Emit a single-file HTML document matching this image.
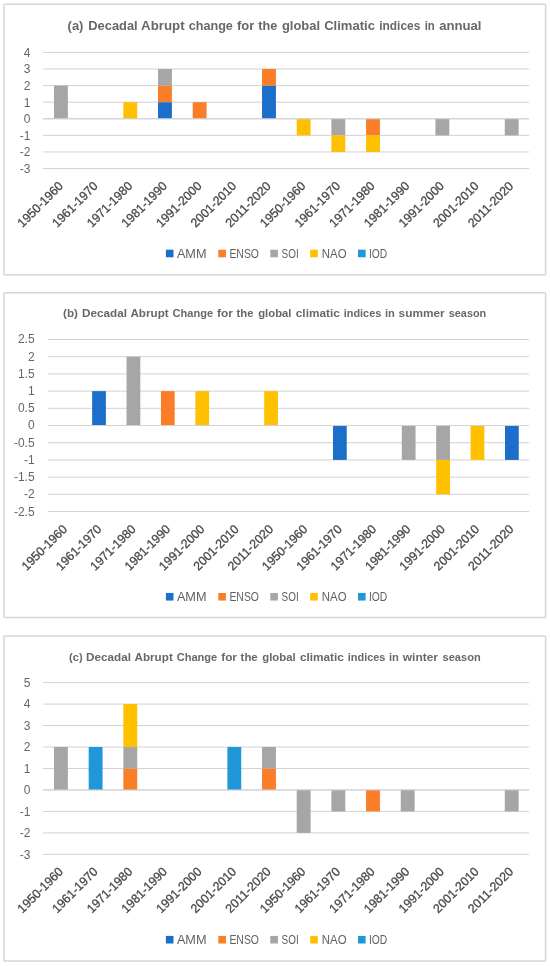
<!DOCTYPE html><html><head><meta charset="utf-8"><title>Decadal Abrupt Change</title><style>html,body{margin:0;padding:0;background:#fff}svg{display:block}text{font-family:"Liberation Sans",sans-serif}</style></head><body>
<svg width="550" height="966" viewBox="0 0 550 966" fill="#595959">
<rect x="0" y="0" width="550" height="966" fill="#fff"/>
<rect x="3.95" y="4.25" width="541.65" height="270.45" fill="#fff" stroke="#D6D6D6" stroke-width="1.5" rx="0.8"/>
<line x1="43.00" y1="52.40" x2="529.00" y2="52.40" stroke="#D2D2D2" stroke-width="1"/>
<text x="30.40" y="56.85" font-size="12.00" fill="#666666" text-anchor="end">4</text>
<line x1="43.00" y1="68.99" x2="529.00" y2="68.99" stroke="#D2D2D2" stroke-width="1"/>
<text x="30.40" y="73.44" font-size="12.00" fill="#666666" text-anchor="end">3</text>
<line x1="43.00" y1="85.59" x2="529.00" y2="85.59" stroke="#D2D2D2" stroke-width="1"/>
<text x="30.40" y="90.04" font-size="12.00" fill="#666666" text-anchor="end">2</text>
<line x1="43.00" y1="102.18" x2="529.00" y2="102.18" stroke="#D2D2D2" stroke-width="1"/>
<text x="30.40" y="106.63" font-size="12.00" fill="#666666" text-anchor="end">1</text>
<line x1="43.00" y1="118.77" x2="529.00" y2="118.77" stroke="#D2D2D2" stroke-width="1"/>
<text x="30.40" y="123.22" font-size="12.00" fill="#666666" text-anchor="end">0</text>
<line x1="43.00" y1="135.36" x2="529.00" y2="135.36" stroke="#D2D2D2" stroke-width="1"/>
<text x="30.40" y="139.81" font-size="12.00" fill="#666666" text-anchor="end">-1</text>
<line x1="43.00" y1="151.96" x2="529.00" y2="151.96" stroke="#D2D2D2" stroke-width="1"/>
<text x="30.40" y="156.41" font-size="12.00" fill="#666666" text-anchor="end">-2</text>
<line x1="43.00" y1="168.55" x2="529.00" y2="168.55" stroke="#D2D2D2" stroke-width="1"/>
<text x="30.40" y="173.00" font-size="12.00" fill="#666666" text-anchor="end">-3</text>
<rect x="54.00" y="85.59" width="13.87" height="33.19" fill="#A6A6A6"/>
<rect x="123.35" y="102.18" width="13.87" height="16.59" fill="#FFC000"/>
<rect x="158.03" y="102.18" width="13.87" height="16.59" fill="#1B6EC9"/>
<rect x="158.03" y="85.59" width="13.87" height="16.59" fill="#FA7E28"/>
<rect x="158.03" y="68.99" width="13.87" height="16.59" fill="#A6A6A6"/>
<rect x="192.70" y="102.18" width="13.87" height="16.59" fill="#FA7E28"/>
<rect x="262.05" y="85.59" width="13.87" height="33.19" fill="#1B6EC9"/>
<rect x="262.05" y="68.99" width="13.87" height="16.59" fill="#FA7E28"/>
<rect x="296.73" y="118.77" width="13.87" height="16.59" fill="#FFC000"/>
<rect x="331.40" y="118.77" width="13.87" height="16.59" fill="#A6A6A6"/>
<rect x="331.40" y="135.36" width="13.87" height="16.59" fill="#FFC000"/>
<rect x="366.08" y="118.77" width="13.87" height="16.59" fill="#FA7E28"/>
<rect x="366.08" y="135.36" width="13.87" height="16.59" fill="#FFC000"/>
<rect x="435.43" y="118.77" width="13.87" height="16.59" fill="#A6A6A6"/>
<rect x="504.78" y="118.77" width="13.87" height="16.59" fill="#A6A6A6"/>
<line x1="43.00" y1="118.77" x2="529.00" y2="118.77" stroke="#D2D2D2" stroke-width="1"/>
<text transform="translate(60.86 183.70) rotate(-45)" x="0" y="4.30" font-size="12.50" text-anchor="end" fill="#484848" stroke="#484848" stroke-width="0.3" textLength="58.4" lengthAdjust="spacingAndGlyphs">1950-1960</text>
<text transform="translate(95.49 183.70) rotate(-45)" x="0" y="4.30" font-size="12.50" text-anchor="end" fill="#484848" stroke="#484848" stroke-width="0.3" textLength="58.4" lengthAdjust="spacingAndGlyphs">1961-1970</text>
<text transform="translate(130.13 183.70) rotate(-45)" x="0" y="4.30" font-size="12.50" text-anchor="end" fill="#484848" stroke="#484848" stroke-width="0.3" textLength="58.4" lengthAdjust="spacingAndGlyphs">1971-1980</text>
<text transform="translate(164.77 183.70) rotate(-45)" x="0" y="4.30" font-size="12.50" text-anchor="end" fill="#484848" stroke="#484848" stroke-width="0.3" textLength="58.4" lengthAdjust="spacingAndGlyphs">1981-1990</text>
<text transform="translate(199.41 183.70) rotate(-45)" x="0" y="4.30" font-size="12.50" text-anchor="end" fill="#484848" stroke="#484848" stroke-width="0.3" textLength="58.4" lengthAdjust="spacingAndGlyphs">1991-2000</text>
<text transform="translate(234.04 183.70) rotate(-45)" x="0" y="4.30" font-size="12.50" text-anchor="end" fill="#484848" stroke="#484848" stroke-width="0.3" textLength="58.4" lengthAdjust="spacingAndGlyphs">2001-2010</text>
<text transform="translate(268.68 183.70) rotate(-45)" x="0" y="4.30" font-size="12.50" text-anchor="end" fill="#484848" stroke="#484848" stroke-width="0.3" textLength="58.4" lengthAdjust="spacingAndGlyphs">2011-2020</text>
<text transform="translate(303.32 183.70) rotate(-45)" x="0" y="4.30" font-size="12.50" text-anchor="end" fill="#484848" stroke="#484848" stroke-width="0.3" textLength="58.4" lengthAdjust="spacingAndGlyphs">1950-1960</text>
<text transform="translate(337.96 183.70) rotate(-45)" x="0" y="4.30" font-size="12.50" text-anchor="end" fill="#484848" stroke="#484848" stroke-width="0.3" textLength="58.4" lengthAdjust="spacingAndGlyphs">1961-1970</text>
<text transform="translate(372.59 183.70) rotate(-45)" x="0" y="4.30" font-size="12.50" text-anchor="end" fill="#484848" stroke="#484848" stroke-width="0.3" textLength="58.4" lengthAdjust="spacingAndGlyphs">1971-1980</text>
<text transform="translate(407.23 183.70) rotate(-45)" x="0" y="4.30" font-size="12.50" text-anchor="end" fill="#484848" stroke="#484848" stroke-width="0.3" textLength="58.4" lengthAdjust="spacingAndGlyphs">1981-1990</text>
<text transform="translate(441.87 183.70) rotate(-45)" x="0" y="4.30" font-size="12.50" text-anchor="end" fill="#484848" stroke="#484848" stroke-width="0.3" textLength="58.4" lengthAdjust="spacingAndGlyphs">1991-2000</text>
<text transform="translate(476.50 183.70) rotate(-45)" x="0" y="4.30" font-size="12.50" text-anchor="end" fill="#484848" stroke="#484848" stroke-width="0.3" textLength="58.4" lengthAdjust="spacingAndGlyphs">2001-2010</text>
<text transform="translate(511.14 183.70) rotate(-45)" x="0" y="4.30" font-size="12.50" text-anchor="end" fill="#484848" stroke="#484848" stroke-width="0.3" textLength="58.4" lengthAdjust="spacingAndGlyphs">2011-2020</text>
<text y="29.60" font-size="13.30" font-weight="bold" fill="#686868"><tspan x="67.60" textLength="15.80" lengthAdjust="spacingAndGlyphs">(a)</tspan> <tspan x="88.30" textLength="49.40" lengthAdjust="spacingAndGlyphs">Decadal</tspan> <tspan x="141.10" textLength="43.50" lengthAdjust="spacingAndGlyphs">Abrupt</tspan> <tspan x="188.70" textLength="44.20" lengthAdjust="spacingAndGlyphs">change</tspan> <tspan x="236.90" textLength="17.40" lengthAdjust="spacingAndGlyphs">for</tspan> <tspan x="258.30" textLength="19.00" lengthAdjust="spacingAndGlyphs">the</tspan> <tspan x="281.90" textLength="38.10" lengthAdjust="spacingAndGlyphs">global</tspan> <tspan x="324.20" textLength="50.70" lengthAdjust="spacingAndGlyphs">Climatic</tspan> <tspan x="379.20" textLength="41.10" lengthAdjust="spacingAndGlyphs">indices</tspan> <tspan x="424.70" textLength="10.10" lengthAdjust="spacingAndGlyphs">in</tspan> <tspan x="439.20" textLength="42.30" lengthAdjust="spacingAndGlyphs">annual</tspan></text>
<rect x="165.90" y="249.70" width="7.6" height="7.6" fill="#1B6EC9"/>
<text x="176.90" y="257.50" font-size="12.50" fill="#606060" textLength="29.60" lengthAdjust="spacingAndGlyphs">AMM</text>
<rect x="218.30" y="249.70" width="7.6" height="7.6" fill="#FA7E28"/>
<text x="229.40" y="257.50" font-size="12.50" fill="#606060" textLength="29.60" lengthAdjust="spacingAndGlyphs">ENSO</text>
<rect x="270.30" y="249.70" width="7.6" height="7.6" fill="#A6A6A6"/>
<text x="281.60" y="257.50" font-size="12.50" fill="#606060" textLength="17.10" lengthAdjust="spacingAndGlyphs">SOI</text>
<rect x="310.20" y="249.70" width="7.6" height="7.6" fill="#FFC000"/>
<text x="321.80" y="257.50" font-size="12.50" fill="#606060" textLength="24.70" lengthAdjust="spacingAndGlyphs">NAO</text>
<rect x="358.00" y="249.70" width="7.6" height="7.6" fill="#1F97D9"/>
<text x="368.90" y="257.50" font-size="12.50" fill="#606060" textLength="18.30" lengthAdjust="spacingAndGlyphs">IOD</text>
<rect x="3.95" y="292.70" width="541.65" height="324.85" fill="#fff" stroke="#D6D6D6" stroke-width="1.5" rx="0.8"/>
<line x1="48.00" y1="339.50" x2="529.00" y2="339.50" stroke="#D2D2D2" stroke-width="1"/>
<text x="34.60" y="343.45" font-size="12.00" fill="#666666" text-anchor="end">2.5</text>
<line x1="48.00" y1="356.70" x2="529.00" y2="356.70" stroke="#D2D2D2" stroke-width="1"/>
<text x="34.60" y="360.65" font-size="12.00" fill="#666666" text-anchor="end">2</text>
<line x1="48.00" y1="373.91" x2="529.00" y2="373.91" stroke="#D2D2D2" stroke-width="1"/>
<text x="34.60" y="377.86" font-size="12.00" fill="#666666" text-anchor="end">1.5</text>
<line x1="48.00" y1="391.12" x2="529.00" y2="391.12" stroke="#D2D2D2" stroke-width="1"/>
<text x="34.60" y="395.06" font-size="12.00" fill="#666666" text-anchor="end">1</text>
<line x1="48.00" y1="408.32" x2="529.00" y2="408.32" stroke="#D2D2D2" stroke-width="1"/>
<text x="34.60" y="412.27" font-size="12.00" fill="#666666" text-anchor="end">0.5</text>
<line x1="48.00" y1="425.52" x2="529.00" y2="425.52" stroke="#D2D2D2" stroke-width="1"/>
<text x="34.60" y="429.47" font-size="12.00" fill="#666666" text-anchor="end">0</text>
<line x1="48.00" y1="442.73" x2="529.00" y2="442.73" stroke="#D2D2D2" stroke-width="1"/>
<text x="34.60" y="446.68" font-size="12.00" fill="#666666" text-anchor="end">-0.5</text>
<line x1="48.00" y1="459.94" x2="529.00" y2="459.94" stroke="#D2D2D2" stroke-width="1"/>
<text x="34.60" y="463.88" font-size="12.00" fill="#666666" text-anchor="end">-1</text>
<line x1="48.00" y1="477.14" x2="529.00" y2="477.14" stroke="#D2D2D2" stroke-width="1"/>
<text x="34.60" y="481.09" font-size="12.00" fill="#666666" text-anchor="end">-1.5</text>
<line x1="48.00" y1="494.35" x2="529.00" y2="494.35" stroke="#D2D2D2" stroke-width="1"/>
<text x="34.60" y="498.30" font-size="12.00" fill="#666666" text-anchor="end">-2</text>
<line x1="48.00" y1="511.55" x2="529.00" y2="511.55" stroke="#D2D2D2" stroke-width="1"/>
<text x="34.60" y="515.50" font-size="12.00" fill="#666666" text-anchor="end">-2.5</text>
<rect x="92.13" y="391.12" width="13.76" height="34.41" fill="#1B6EC9"/>
<rect x="126.54" y="356.70" width="13.76" height="68.82" fill="#A6A6A6"/>
<rect x="160.94" y="391.12" width="13.76" height="34.41" fill="#FA7E28"/>
<rect x="195.35" y="391.12" width="13.76" height="34.41" fill="#FFC000"/>
<rect x="264.17" y="391.12" width="13.76" height="34.41" fill="#FFC000"/>
<rect x="332.98" y="425.52" width="13.76" height="34.41" fill="#1B6EC9"/>
<rect x="401.79" y="425.52" width="13.76" height="34.41" fill="#A6A6A6"/>
<rect x="436.20" y="425.52" width="13.76" height="34.41" fill="#A6A6A6"/>
<rect x="436.20" y="459.94" width="13.76" height="34.41" fill="#FFC000"/>
<rect x="470.61" y="425.52" width="13.76" height="34.41" fill="#FFC000"/>
<rect x="505.01" y="425.52" width="13.76" height="34.41" fill="#1B6EC9"/>
<line x1="48.00" y1="425.52" x2="529.00" y2="425.52" stroke="#D2D2D2" stroke-width="1"/>
<text transform="translate(64.88 526.80) rotate(-45)" x="0" y="4.30" font-size="12.50" text-anchor="end" fill="#484848" stroke="#484848" stroke-width="0.3" textLength="58.4" lengthAdjust="spacingAndGlyphs">1950-1960</text>
<text transform="translate(99.23 526.80) rotate(-45)" x="0" y="4.30" font-size="12.50" text-anchor="end" fill="#484848" stroke="#484848" stroke-width="0.3" textLength="58.4" lengthAdjust="spacingAndGlyphs">1961-1970</text>
<text transform="translate(133.58 526.80) rotate(-45)" x="0" y="4.30" font-size="12.50" text-anchor="end" fill="#484848" stroke="#484848" stroke-width="0.3" textLength="58.4" lengthAdjust="spacingAndGlyphs">1971-1980</text>
<text transform="translate(167.93 526.80) rotate(-45)" x="0" y="4.30" font-size="12.50" text-anchor="end" fill="#484848" stroke="#484848" stroke-width="0.3" textLength="58.4" lengthAdjust="spacingAndGlyphs">1981-1990</text>
<text transform="translate(202.28 526.80) rotate(-45)" x="0" y="4.30" font-size="12.50" text-anchor="end" fill="#484848" stroke="#484848" stroke-width="0.3" textLength="58.4" lengthAdjust="spacingAndGlyphs">1991-2000</text>
<text transform="translate(236.62 526.80) rotate(-45)" x="0" y="4.30" font-size="12.50" text-anchor="end" fill="#484848" stroke="#484848" stroke-width="0.3" textLength="58.4" lengthAdjust="spacingAndGlyphs">2001-2010</text>
<text transform="translate(270.97 526.80) rotate(-45)" x="0" y="4.30" font-size="12.50" text-anchor="end" fill="#484848" stroke="#484848" stroke-width="0.3" textLength="58.4" lengthAdjust="spacingAndGlyphs">2011-2020</text>
<text transform="translate(305.32 526.80) rotate(-45)" x="0" y="4.30" font-size="12.50" text-anchor="end" fill="#484848" stroke="#484848" stroke-width="0.3" textLength="58.4" lengthAdjust="spacingAndGlyphs">1950-1960</text>
<text transform="translate(339.67 526.80) rotate(-45)" x="0" y="4.30" font-size="12.50" text-anchor="end" fill="#484848" stroke="#484848" stroke-width="0.3" textLength="58.4" lengthAdjust="spacingAndGlyphs">1961-1970</text>
<text transform="translate(374.02 526.80) rotate(-45)" x="0" y="4.30" font-size="12.50" text-anchor="end" fill="#484848" stroke="#484848" stroke-width="0.3" textLength="58.4" lengthAdjust="spacingAndGlyphs">1971-1980</text>
<text transform="translate(408.37 526.80) rotate(-45)" x="0" y="4.30" font-size="12.50" text-anchor="end" fill="#484848" stroke="#484848" stroke-width="0.3" textLength="58.4" lengthAdjust="spacingAndGlyphs">1981-1990</text>
<text transform="translate(442.72 526.80) rotate(-45)" x="0" y="4.30" font-size="12.50" text-anchor="end" fill="#484848" stroke="#484848" stroke-width="0.3" textLength="58.4" lengthAdjust="spacingAndGlyphs">1991-2000</text>
<text transform="translate(477.07 526.80) rotate(-45)" x="0" y="4.30" font-size="12.50" text-anchor="end" fill="#484848" stroke="#484848" stroke-width="0.3" textLength="58.4" lengthAdjust="spacingAndGlyphs">2001-2010</text>
<text transform="translate(511.42 526.80) rotate(-45)" x="0" y="4.30" font-size="12.50" text-anchor="end" fill="#484848" stroke="#484848" stroke-width="0.3" textLength="58.4" lengthAdjust="spacingAndGlyphs">2011-2020</text>
<text y="317.40" font-size="11.80" font-weight="bold" fill="#686868"><tspan x="63.10" textLength="14.90" lengthAdjust="spacingAndGlyphs">(b)</tspan> <tspan x="82.00" textLength="44.90" lengthAdjust="spacingAndGlyphs">Decadal</tspan> <tspan x="130.40" textLength="38.30" lengthAdjust="spacingAndGlyphs">Abrupt</tspan> <tspan x="172.60" textLength="40.50" lengthAdjust="spacingAndGlyphs">Change</tspan> <tspan x="217.10" textLength="15.80" lengthAdjust="spacingAndGlyphs">for</tspan> <tspan x="236.50" textLength="17.10" lengthAdjust="spacingAndGlyphs">the</tspan> <tspan x="258.20" textLength="33.30" lengthAdjust="spacingAndGlyphs">global</tspan> <tspan x="295.80" textLength="44.00" lengthAdjust="spacingAndGlyphs">climatic</tspan> <tspan x="343.70" textLength="37.60" lengthAdjust="spacingAndGlyphs">indices</tspan> <tspan x="384.90" textLength="9.90" lengthAdjust="spacingAndGlyphs">in</tspan> <tspan x="398.60" textLength="46.10" lengthAdjust="spacingAndGlyphs">summer</tspan> <tspan x="448.80" textLength="37.40" lengthAdjust="spacingAndGlyphs">season</tspan></text>
<rect x="165.90" y="592.95" width="7.6" height="7.6" fill="#1B6EC9"/>
<text x="176.90" y="600.75" font-size="12.50" fill="#606060" textLength="29.60" lengthAdjust="spacingAndGlyphs">AMM</text>
<rect x="218.30" y="592.95" width="7.6" height="7.6" fill="#FA7E28"/>
<text x="229.40" y="600.75" font-size="12.50" fill="#606060" textLength="29.60" lengthAdjust="spacingAndGlyphs">ENSO</text>
<rect x="270.30" y="592.95" width="7.6" height="7.6" fill="#A6A6A6"/>
<text x="281.60" y="600.75" font-size="12.50" fill="#606060" textLength="17.10" lengthAdjust="spacingAndGlyphs">SOI</text>
<rect x="310.20" y="592.95" width="7.6" height="7.6" fill="#FFC000"/>
<text x="321.80" y="600.75" font-size="12.50" fill="#606060" textLength="24.70" lengthAdjust="spacingAndGlyphs">NAO</text>
<rect x="358.00" y="592.95" width="7.6" height="7.6" fill="#1F97D9"/>
<text x="368.90" y="600.75" font-size="12.50" fill="#606060" textLength="18.30" lengthAdjust="spacingAndGlyphs">IOD</text>
<rect x="3.95" y="635.95" width="541.65" height="324.95" fill="#fff" stroke="#D6D6D6" stroke-width="1.5" rx="0.8"/>
<line x1="43.00" y1="682.60" x2="529.00" y2="682.60" stroke="#D2D2D2" stroke-width="1"/>
<text x="30.40" y="686.90" font-size="12.00" fill="#666666" text-anchor="end">5</text>
<line x1="43.00" y1="704.07" x2="529.00" y2="704.07" stroke="#D2D2D2" stroke-width="1"/>
<text x="30.40" y="708.37" font-size="12.00" fill="#666666" text-anchor="end">4</text>
<line x1="43.00" y1="725.54" x2="529.00" y2="725.54" stroke="#D2D2D2" stroke-width="1"/>
<text x="30.40" y="729.84" font-size="12.00" fill="#666666" text-anchor="end">3</text>
<line x1="43.00" y1="747.01" x2="529.00" y2="747.01" stroke="#D2D2D2" stroke-width="1"/>
<text x="30.40" y="751.31" font-size="12.00" fill="#666666" text-anchor="end">2</text>
<line x1="43.00" y1="768.48" x2="529.00" y2="768.48" stroke="#D2D2D2" stroke-width="1"/>
<text x="30.40" y="772.77" font-size="12.00" fill="#666666" text-anchor="end">1</text>
<line x1="43.00" y1="789.94" x2="529.00" y2="789.94" stroke="#D2D2D2" stroke-width="1"/>
<text x="30.40" y="794.24" font-size="12.00" fill="#666666" text-anchor="end">0</text>
<line x1="43.00" y1="811.41" x2="529.00" y2="811.41" stroke="#D2D2D2" stroke-width="1"/>
<text x="30.40" y="815.71" font-size="12.00" fill="#666666" text-anchor="end">-1</text>
<line x1="43.00" y1="832.88" x2="529.00" y2="832.88" stroke="#D2D2D2" stroke-width="1"/>
<text x="30.40" y="837.18" font-size="12.00" fill="#666666" text-anchor="end">-2</text>
<line x1="43.00" y1="854.35" x2="529.00" y2="854.35" stroke="#D2D2D2" stroke-width="1"/>
<text x="30.40" y="858.65" font-size="12.00" fill="#666666" text-anchor="end">-3</text>
<rect x="54.00" y="747.01" width="13.87" height="42.94" fill="#A6A6A6"/>
<rect x="88.68" y="747.01" width="13.87" height="42.94" fill="#1F97D9"/>
<rect x="123.35" y="768.48" width="13.87" height="21.47" fill="#FA7E28"/>
<rect x="123.35" y="747.01" width="13.87" height="21.47" fill="#A6A6A6"/>
<rect x="123.35" y="704.07" width="13.87" height="42.94" fill="#FFC000"/>
<rect x="227.38" y="747.01" width="13.87" height="42.94" fill="#1F97D9"/>
<rect x="262.05" y="768.48" width="13.87" height="21.47" fill="#FA7E28"/>
<rect x="262.05" y="747.01" width="13.87" height="21.47" fill="#A6A6A6"/>
<rect x="296.73" y="789.94" width="13.87" height="42.94" fill="#A6A6A6"/>
<rect x="331.40" y="789.94" width="13.87" height="21.47" fill="#A6A6A6"/>
<rect x="366.08" y="789.94" width="13.87" height="21.47" fill="#FA7E28"/>
<rect x="400.75" y="789.94" width="13.87" height="21.47" fill="#A6A6A6"/>
<rect x="504.78" y="789.94" width="13.87" height="21.47" fill="#A6A6A6"/>
<line x1="43.00" y1="789.94" x2="529.00" y2="789.94" stroke="#D2D2D2" stroke-width="1"/>
<text transform="translate(60.86 869.30) rotate(-45)" x="0" y="4.30" font-size="12.50" text-anchor="end" fill="#484848" stroke="#484848" stroke-width="0.3" textLength="58.4" lengthAdjust="spacingAndGlyphs">1950-1960</text>
<text transform="translate(95.49 869.30) rotate(-45)" x="0" y="4.30" font-size="12.50" text-anchor="end" fill="#484848" stroke="#484848" stroke-width="0.3" textLength="58.4" lengthAdjust="spacingAndGlyphs">1961-1970</text>
<text transform="translate(130.13 869.30) rotate(-45)" x="0" y="4.30" font-size="12.50" text-anchor="end" fill="#484848" stroke="#484848" stroke-width="0.3" textLength="58.4" lengthAdjust="spacingAndGlyphs">1971-1980</text>
<text transform="translate(164.77 869.30) rotate(-45)" x="0" y="4.30" font-size="12.50" text-anchor="end" fill="#484848" stroke="#484848" stroke-width="0.3" textLength="58.4" lengthAdjust="spacingAndGlyphs">1981-1990</text>
<text transform="translate(199.41 869.30) rotate(-45)" x="0" y="4.30" font-size="12.50" text-anchor="end" fill="#484848" stroke="#484848" stroke-width="0.3" textLength="58.4" lengthAdjust="spacingAndGlyphs">1991-2000</text>
<text transform="translate(234.04 869.30) rotate(-45)" x="0" y="4.30" font-size="12.50" text-anchor="end" fill="#484848" stroke="#484848" stroke-width="0.3" textLength="58.4" lengthAdjust="spacingAndGlyphs">2001-2010</text>
<text transform="translate(268.68 869.30) rotate(-45)" x="0" y="4.30" font-size="12.50" text-anchor="end" fill="#484848" stroke="#484848" stroke-width="0.3" textLength="58.4" lengthAdjust="spacingAndGlyphs">2011-2020</text>
<text transform="translate(303.32 869.30) rotate(-45)" x="0" y="4.30" font-size="12.50" text-anchor="end" fill="#484848" stroke="#484848" stroke-width="0.3" textLength="58.4" lengthAdjust="spacingAndGlyphs">1950-1960</text>
<text transform="translate(337.96 869.30) rotate(-45)" x="0" y="4.30" font-size="12.50" text-anchor="end" fill="#484848" stroke="#484848" stroke-width="0.3" textLength="58.4" lengthAdjust="spacingAndGlyphs">1961-1970</text>
<text transform="translate(372.59 869.30) rotate(-45)" x="0" y="4.30" font-size="12.50" text-anchor="end" fill="#484848" stroke="#484848" stroke-width="0.3" textLength="58.4" lengthAdjust="spacingAndGlyphs">1971-1980</text>
<text transform="translate(407.23 869.30) rotate(-45)" x="0" y="4.30" font-size="12.50" text-anchor="end" fill="#484848" stroke="#484848" stroke-width="0.3" textLength="58.4" lengthAdjust="spacingAndGlyphs">1981-1990</text>
<text transform="translate(441.87 869.30) rotate(-45)" x="0" y="4.30" font-size="12.50" text-anchor="end" fill="#484848" stroke="#484848" stroke-width="0.3" textLength="58.4" lengthAdjust="spacingAndGlyphs">1991-2000</text>
<text transform="translate(476.50 869.30) rotate(-45)" x="0" y="4.30" font-size="12.50" text-anchor="end" fill="#484848" stroke="#484848" stroke-width="0.3" textLength="58.4" lengthAdjust="spacingAndGlyphs">2001-2010</text>
<text transform="translate(511.14 869.30) rotate(-45)" x="0" y="4.30" font-size="12.50" text-anchor="end" fill="#484848" stroke="#484848" stroke-width="0.3" textLength="58.4" lengthAdjust="spacingAndGlyphs">2011-2020</text>
<text y="660.70" font-size="11.80" font-weight="bold" fill="#686868"><tspan x="69.10" textLength="13.50" lengthAdjust="spacingAndGlyphs">(c)</tspan> <tspan x="86.10" textLength="44.90" lengthAdjust="spacingAndGlyphs">Decadal</tspan> <tspan x="134.50" textLength="38.30" lengthAdjust="spacingAndGlyphs">Abrupt</tspan> <tspan x="176.70" textLength="40.50" lengthAdjust="spacingAndGlyphs">Change</tspan> <tspan x="221.20" textLength="15.80" lengthAdjust="spacingAndGlyphs">for</tspan> <tspan x="240.60" textLength="17.10" lengthAdjust="spacingAndGlyphs">the</tspan> <tspan x="262.30" textLength="33.30" lengthAdjust="spacingAndGlyphs">global</tspan> <tspan x="299.90" textLength="44.00" lengthAdjust="spacingAndGlyphs">climatic</tspan> <tspan x="347.80" textLength="37.60" lengthAdjust="spacingAndGlyphs">indices</tspan> <tspan x="389.00" textLength="9.90" lengthAdjust="spacingAndGlyphs">in</tspan> <tspan x="402.80" textLength="35.20" lengthAdjust="spacingAndGlyphs">winter</tspan> <tspan x="442.50" textLength="38.20" lengthAdjust="spacingAndGlyphs">season</tspan></text>
<rect x="165.90" y="935.90" width="7.6" height="7.6" fill="#1B6EC9"/>
<text x="176.90" y="943.70" font-size="12.50" fill="#606060" textLength="29.60" lengthAdjust="spacingAndGlyphs">AMM</text>
<rect x="218.30" y="935.90" width="7.6" height="7.6" fill="#FA7E28"/>
<text x="229.40" y="943.70" font-size="12.50" fill="#606060" textLength="29.60" lengthAdjust="spacingAndGlyphs">ENSO</text>
<rect x="270.30" y="935.90" width="7.6" height="7.6" fill="#A6A6A6"/>
<text x="281.60" y="943.70" font-size="12.50" fill="#606060" textLength="17.10" lengthAdjust="spacingAndGlyphs">SOI</text>
<rect x="310.20" y="935.90" width="7.6" height="7.6" fill="#FFC000"/>
<text x="321.80" y="943.70" font-size="12.50" fill="#606060" textLength="24.70" lengthAdjust="spacingAndGlyphs">NAO</text>
<rect x="358.00" y="935.90" width="7.6" height="7.6" fill="#1F97D9"/>
<text x="368.90" y="943.70" font-size="12.50" fill="#606060" textLength="18.30" lengthAdjust="spacingAndGlyphs">IOD</text>
</svg></body></html>
